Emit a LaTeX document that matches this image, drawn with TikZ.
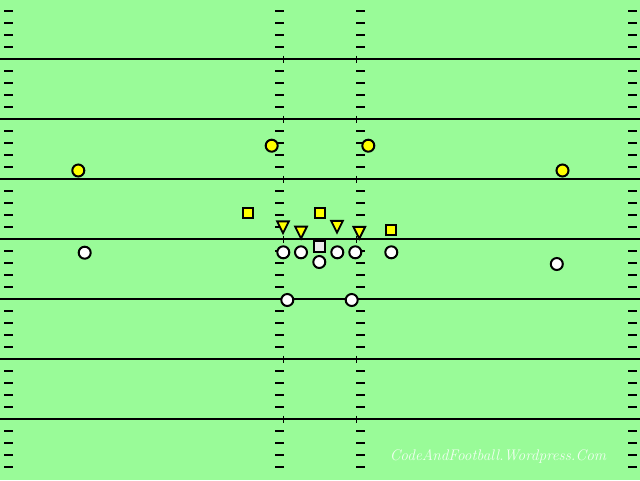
\documentclass[tikz,border=0pt]{standalone}
\usetikzlibrary{shapes.geometric}
\definecolor{field}{RGB}{153,251,152}
\definecolor{defy}{RGB}{255,255,0}
\definecolor{ctrsq}{RGB}{235,235,235}
\definecolor{wm}{RGB}{240,255,240}
\tikzset{
  yard/.style={line width=1pt,black},
  tick/.style={line width=1.1pt,black},
  offc/.style={circle,draw=black,fill=white,line width=1.5pt,minimum size=9pt,inner sep=0pt},
  defc/.style={circle,draw=black,fill=defy,line width=1.5pt,minimum size=9pt,inner sep=0pt},
  defsq/.style={rectangle,draw=black,fill=defy,line width=1.5pt,minimum size=7.6pt,inner sep=0pt},
  ctrbox/.style={rectangle,draw=black,fill=ctrsq,line width=1.5pt,minimum size=7.8pt,inner sep=0pt},
  deftri/.style={isosceles triangle,isosceles triangle stretches=true,shape border rotate=270,
    draw=black,fill=defy,line width=1.4pt,minimum width=8.8pt,minimum height=8.8pt,inner sep=0pt},
  wmtext/.style={font=\fontsize{11.5}{13}\selectfont\itshape,text=wm}
}
\begin{document}
\begin{tikzpicture}[x=0.75pt,y=-0.75pt]
\fill[field] (0,0) rectangle (640,480);
\useasboundingbox (0,0) rectangle (640,480);
% yard lines
\foreach \Y in {59,119,...,419} {
  \draw[yard] (0,\Y) -- (640,\Y);
  \draw[tick] (283.5,\Y-3.5) -- (283.5,\Y+3.5);
  \draw[tick] (356.5,\Y-3.5) -- (356.5,\Y+3.5);
}
% hash marks
\foreach \Y in {59,119,...,479} {
  \foreach \d in {12,24,36,48} {
    \draw[tick] (4,\Y-\d) -- (13,\Y-\d);
    \draw[tick] (275,\Y-\d) -- (284,\Y-\d);
    \draw[tick] (356,\Y-\d) -- (365,\Y-\d);
    \draw[tick] (628,\Y-\d) -- (637,\Y-\d);
  }
}
% offense
\node[offc] (o1) at (84.7,252.7) {};
\node[offc] (o2) at (283.3,252.3) {};
\node[offc] (o3) at (301,252.3) {};
\node[ctrbox] (oc) at (319.5,246.5) {};
\node[offc] (o4) at (337.3,252.3) {};
\node[offc] (o5) at (355.3,252.3) {};
\node[offc] (o6) at (391.3,252.3) {};
\node[offc] (oq) at (319.3,262) {};
\node[offc] (ob1) at (287.3,300) {};
\node[offc] (ob2) at (351.7,300) {};
\node[offc] (o7) at (556.8,264) {};
% defense
\node[defc] (d1) at (78.3,170.5) {};
\node[defc] (d2) at (271.7,145.7) {};
\node[defc] (d3) at (368.3,145.7) {};
\node[defc] (d4) at (562.5,170.5) {};
\node[defsq] (l1) at (248.3,212.7) {};
\node[defsq] (l2) at (320,212.7) {};
\node[defsq] (l3) at (391,230) {};
\node[deftri] (t1) at (283,225) {};
\node[deftri] (t2) at (301,230.3) {};
\node[deftri] (t3) at (337,224.5) {};
\node[deftri] (t4) at (359.3,230.5) {};
% watermark
\node[wmtext] (wm) at (498,457) {CodeAndFootball.Wordpress.Com};
\end{tikzpicture}
\end{document}
